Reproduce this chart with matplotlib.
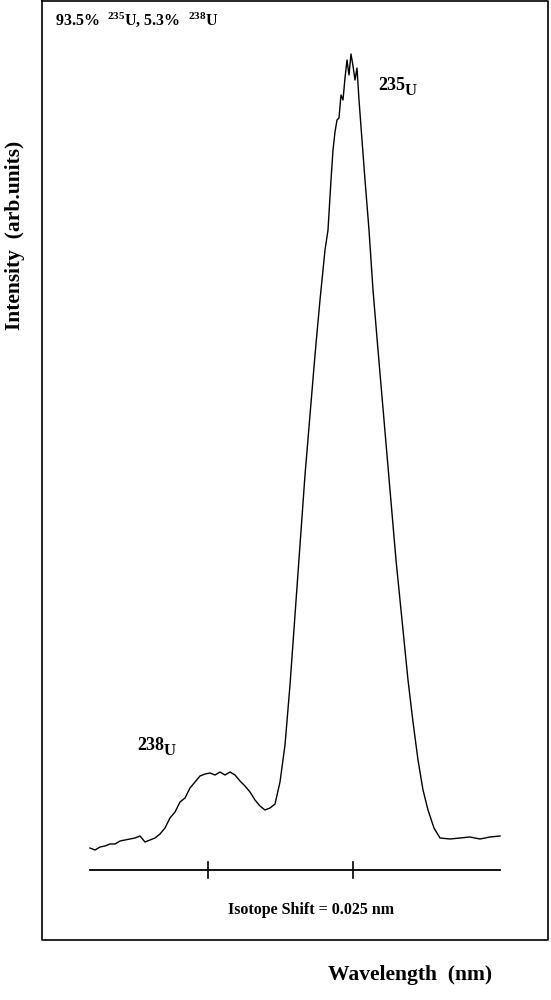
import matplotlib
matplotlib.use("Agg")
import matplotlib.pyplot as plt

plt.rcParams["mathtext.fontset"] = "custom"
plt.rcParams["mathtext.rm"] = "Liberation Serif:bold"
plt.rcParams["mathtext.bf"] = "Liberation Serif:bold"
plt.rcParams["mathtext.it"] = "Liberation Serif:bold:italic"

# spectrum traced in picture coordinates (x right, y down)
xs = [90,95,100,105,110,115,120,125,130,135,140,145,150,155,160,165,170,175,180,185,190,195,200,205,210,215,220,225,230,235,240,245,250,255,260,265,270,275,
      280,285,290,295,300,305,310,315,320,325,328,331,333,335,337,339,341,343,345,347,349,351,353,355,357,359,362,365,369,373,378,384,390,396,402,408,413,418,423,428,434,440,450,460,470,480,490,500]
ys = [848,850,847,846,844,844,841,840,839,838,836,842,840,838,834,828,818,812,802,798,788,782,776,774,773,775,772,775,772,775,781,786,792,800,806,810,808,804,
      782,745,685,615,545,475,415,355,300,250,230,180,150,132,120,118,95,100,78,60,75,54,66,80,68,100,140,180,230,290,350,420,490,560,620,680,722,760,790,810,828,838,839,838,837,839,837,836]
tick_x = [208, 353]

fig = plt.figure(figsize=(5.51, 10.0), dpi=100)
ax = fig.add_axes([0, 0, 1, 1])
ax.set_xlim(0, 551)
ax.set_ylim(1000, 0)
ax.axis("off")
serif = ["Liberation Serif", "DejaVu Serif"]

ax.plot([42, 548, 548, 42, 42], [1, 1, 940, 940, 1], color="black", lw=1.2)
ax.plot(xs, ys, color="black", lw=1.0)
ax.plot([90, 500], [870, 870], color="black", lw=1.3)
for t in tick_x:
    ax.plot([t, t], [862, 878], color="black", lw=1.2)

ax.text(55, 20, r"93.5%  $^{235}$U, 5.3%  $^{238}$U", family=serif, fontweight="bold", fontsize=11.5, va="center")
ax.text(378, 86, "235", family=serif, fontweight="bold", fontsize=13, va="center")
ax.text(405, 91, "U", family=serif, fontweight="bold", fontsize=12, va="center")
ax.text(137, 746, "238", family=serif, fontweight="bold", fontsize=13, va="center")
ax.text(164, 751, "U", family=serif, fontweight="bold", fontsize=12, va="center")
ax.text(311, 910, "Isotope Shift = 0.025 nm", family=serif, fontweight="bold", fontsize=11.5, ha="center", va="center")
ax.text(15, 235, "Intensity  (arb.units)", family=serif, fontweight="bold", fontsize=15.5, rotation=90, ha="center", va="center")
ax.text(410, 975, "Wavelength  (nm)", family=serif, fontweight="bold", fontsize=15.5, ha="center", va="center")

fig.savefig("out.png", dpi=100)
